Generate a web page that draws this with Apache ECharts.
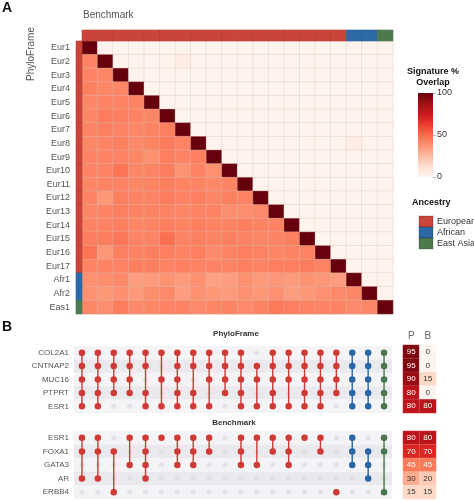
<!DOCTYPE html>
<html>
<head>
<meta charset="utf-8">
<script src="https://cdn.jsdelivr.net/npm/echarts@6/dist/echarts.min.js"></script>
<style>
  html, body { margin: 0; padding: 0; background: #fff; }
  #chart { width: 474px; height: 500px; }
</style>
</head>
<body>
<div id="chart"></div>
<script>
// ---- panel A data ----
const genomes = ['Eur1', 'Eur2', 'Eur3', 'Eur4', 'Eur5', 'Eur6', 'Eur7', 'Eur8', 'Eur9', 'Eur10',
  'Eur11', 'Eur12', 'Eur13', 'Eur14', 'Eur15', 'Eur16', 'Eur17', 'Afr1', 'Afr2', 'Eas1'];
// 0 = European, 1 = African, 2 = East Asian
const ancestry = [0, 0, 0, 0, 0, 0, 0, 0, 0, 0, 0, 0, 0, 0, 0, 0, 0, 1, 1, 2];
const ancestryNames = ['European', 'African', 'East Asian'];
// lower triangle overlap (%), row r holds columns 0..r-1
const lowerTri = [
  [],
  [42],
  [42, 41],
  [43, 41, 41],
  [41, 42, 42, 42],
  [41, 44, 43, 42, 41],
  [42, 43, 42, 41, 42, 43],
  [41, 42, 43, 40, 42, 44, 42],
  [42, 42, 42, 41, 38, 43, 42, 43],
  [42, 42, 47, 41, 42, 44, 37, 42, 38],
  [41, 42, 42, 41, 42, 43, 42, 42, 40, 42],
  [42, 36, 43, 42, 42, 44, 42, 43, 41, 43, 42],
  [41, 42, 43, 42, 42, 42, 41, 42, 42, 39, 39, 40],
  [42, 42, 43, 41, 42, 43, 42, 43, 42, 42, 43, 42, 42],
  [44, 44, 46, 42, 42, 48, 42, 43, 42, 43, 42, 41, 42, 43],
  [47, 36, 43, 42, 43, 43, 42, 43, 40, 42, 43, 42, 41, 42, 42],
  [42, 42, 42, 43, 43, 42, 43, 42, 42, 42, 43, 42, 43, 43, 44, 42],
  [38, 39, 40, 34, 35, 37, 35, 38, 33, 34, 38, 35, 36, 35, 37, 36, 34],
  [38, 36, 38, 35, 39, 40, 34, 38, 36, 35, 38, 36, 38, 34, 36, 38, 40, 41],
  [41, 39, 44, 40, 41, 42, 42, 40, 41, 42, 40, 42, 45, 43, 42, 42, 42, 40, 41]
];
const upperBase = 1;
// [row, col, value] of the few visible upper-triangle overlaps
const upperFaint = [[1, 6, 5], [7, 17, 5]];
const legendTicks = [0, 50, 100];

// ---- panel B data ----
const pfGenes = ['COL2A1', 'CNTNAP2', 'MUC16', 'PTPRT', 'ESR1'];
const pfSets = ['11111', '11111', '11110', '11110', '11011', '10101', '11111', '11011', '11101', '11110',
  '11111', '01101', '11111', '11101', '11111', '11111', '11110', '11111', '11111', '11111'];
const pfP = [95, 95, 90, 80, 80];
const pfB = [0, 0, 15, 0, 80];

const bmGenes = ['ESR1', 'FOXA1', 'GATA3', 'AR', 'ERBB4'];
const bmSets = ['11010', '11010', '01001', '10100', '11110', '10000', '11100', '11100', '11000', '00000',
  '11100', '10100', '11000', '11100', '10000', '11000', '00001', '11100', '01110', '11001'];
const bmP = [80, 70, 45, 30, 15];
const bmB = [80, 70, 45, 20, 15];

const setGroup = [0, 0, 0, 0, 0, 0, 0, 0, 0, 0, 0, 0, 0, 0, 0, 0, 0, 1, 1, 2];
const tableCols = ['P', 'B'];

const reds = ['#fff5f0', '#fee0d2', '#fcbba1', '#fc9272', '#fb6a4a', '#ef3b2c', '#cb181d', '#a50f15', '#67000d'];
const ancColors = ['#c9443a', '#2c6aa7', '#4c7a4e'];
const dotColors = ['#cf3a37', '#2a66a6', '#4a7650'];
const font = 'Liberation Sans, Arial, sans-serif';

// build heatmap data
const mainData = [];
genomes.forEach((g, r) => {
  genomes.forEach((h, c) => {
    let v = upperBase;
    if (c === r) v = 100;
    else if (c < r) v = lowerTri[r][c];
    mainData.push([c, r, v]);
  });
});
upperFaint.forEach(([r, c, v]) => { mainData[r * genomes.length + c][2] = v; });

function matrixParts(sets) {
  const on = [], off = [], lines = [];
  sets.forEach((s, c) => {
    const rows = [];
    s.split('').forEach((b, r) => {
      if (b === '1') { on.push([c, r, setGroup[c]]); rows.push(r); }
      else off.push([c, r]);
    });
    if (rows.length > 1) lines.push([c, rows[0], rows[rows.length - 1], setGroup[c]]);
  });
  return { on, off, lines };
}
const pf = matrixParts(pfSets);
const bm = matrixParts(bmSets);

function tableData(p, b) {
  const out = [];
  p.forEach((v, r) => {
    out.push({ value: [0, r, v], label: { color: v >= 40 ? '#fff' : '#333' } });
    out.push({ value: [1, r, b[r]], label: { color: b[r] >= 40 ? '#fff' : '#333' } });
  });
  return out;
}

const colIdx = pfSets.map((s, i) => i);

const myChart = echarts.init(document.getElementById('chart'));

const hiddenAxis = (gi, data) => ({ type: 'category', gridIndex: gi, data: data, show: false });

// one heatmap series per ancestry for the annotation bars (also feeds the legend)
function annoSeries(gi, top) {
  return ancestryNames.map((name, a) => ({
    type: 'heatmap', name: name, xAxisIndex: gi, yAxisIndex: gi,
    data: ancestry.map((v, i) => [top ? i : 0, top ? 0 : i, v]).filter(d => d[2] === a),
    itemStyle: { color: ancColors[a], borderColor: 'rgba(0,0,0,0.1)', borderWidth: 0.5 }
  }));
}

function matrixSeries(gi, parts) {
  return [
    {
      type: 'custom', xAxisIndex: gi, yAxisIndex: gi, data: parts.lines, z: 3,
      renderItem: (params, api) => {
        const a = api.coord([api.value(0), api.value(1)]);
        const b = api.coord([api.value(0), api.value(2)]);
        return {
          type: 'line',
          shape: { x1: a[0], y1: a[1], x2: b[0], y2: b[1] },
          style: { stroke: dotColors[api.value(3)], lineWidth: 1.4 }
        };
      }
    },
    {
      type: 'scatter', xAxisIndex: gi, yAxisIndex: gi, data: parts.off, symbolSize: 5, z: 2,
      itemStyle: { color: '#dcdce1' }, silent: true
    },
    {
      type: 'scatter', xAxisIndex: gi, yAxisIndex: gi, data: parts.on, symbolSize: 6.5, z: 4,
      itemStyle: { color: p => dotColors[p.data[2]], opacity: 1 }, silent: true
    }
  ];
}

function tableSeries(gi, data) {
  return {
    type: 'heatmap', xAxisIndex: gi, yAxisIndex: gi, data: data,
    label: { show: true, fontSize: 8, fontFamily: font },
    itemStyle: { borderColor: 'rgba(255,255,255,0.25)', borderWidth: 0.5 }
  };
}

myChart.setOption({
  animation: false,
  textStyle: { fontFamily: font },
  grid: [
    { left: 82, top: 41, width: 311, height: 273 },   // 0 heatmap
    { left: 82, top: 30, width: 311, height: 11 },    // 1 top annotation
    { left: 76, top: 41, width: 6, height: 273 },     // 2 left annotation
    { left: 418, top: 93, width: 15, height: 84 },    // 3 colour bar
    { left: 74, top: 346, width: 318, height: 67 },   // 4 PhyloFrame matrix
    { left: 74, top: 431, width: 318, height: 68 },   // 5 Benchmark matrix
    { left: 403, top: 345, width: 33, height: 68 },   // 6 PhyloFrame table
    { left: 403, top: 431, width: 33, height: 68 }    // 7 Benchmark table
  ],
  xAxis: [
    hiddenAxis(0, genomes),
    hiddenAxis(1, genomes),
    hiddenAxis(2, ['a']),
    hiddenAxis(3, ['c']),
    hiddenAxis(4, colIdx),
    hiddenAxis(5, colIdx),
    {
      type: 'category', gridIndex: 6, data: tableCols, position: 'top',
      axisLine: { show: false }, axisTick: { show: false },
      axisLabel: { color: '#666', fontSize: 10, margin: 4 }
    },
    hiddenAxis(7, tableCols)
  ],
  yAxis: [
    {
      type: 'category', gridIndex: 0, data: genomes, inverse: true,
      axisLine: { show: false }, axisTick: { show: false },
      axisLabel: { color: '#555', fontSize: 9, margin: 12 }
    },
    hiddenAxis(1, ['a']),
    Object.assign(hiddenAxis(2, genomes), { inverse: true }),
    {
      type: 'value', gridIndex: 3, min: 0, max: 100, interval: 50, position: 'right',
      splitLine: { show: false }, axisLine: { show: false },
      axisTick: { show: true, length: 3, lineStyle: { color: '#bbb' } },
      axisLabel: { color: '#333', fontSize: 9, margin: 4, formatter: v => legendTicks.includes(v) ? v : '' }
    },
    {
      type: 'category', gridIndex: 4, data: pfGenes, inverse: true,
      axisLine: { show: false }, axisTick: { show: false },
      axisLabel: { color: '#555', fontSize: 8, margin: 5 },
      splitArea: { show: true, areaStyle: { color: ['#f4f4f7', '#e9e9ee'] } }
    },
    {
      type: 'category', gridIndex: 5, data: bmGenes, inverse: true,
      axisLine: { show: false }, axisTick: { show: false },
      axisLabel: { color: '#555', fontSize: 8, margin: 5 },
      splitArea: { show: true, areaStyle: { color: ['#f4f4f7', '#e9e9ee'] } }
    },
    Object.assign(hiddenAxis(6, pfGenes), { inverse: true }),
    Object.assign(hiddenAxis(7, bmGenes), { inverse: true })
  ],
  legend: {
    data: ancestryNames, orient: 'vertical', left: 418, top: 215,
    icon: 'rect', itemWidth: 14, itemHeight: 11, itemGap: -2, padding: 0,
    selectedMode: false,
    textStyle: { color: '#333', fontSize: 9, padding: [0, 0, 0, -1] }
  },
  visualMap: [
    {
      type: 'continuous', show: false, min: 0, max: 100, dimension: 2,
      seriesIndex: [0, 14, 15], inRange: { color: reds }
    }
  ],
  series: [
    {
      type: 'heatmap', xAxisIndex: 0, yAxisIndex: 0, data: mainData,
      itemStyle: { borderColor: 'rgba(215,190,182,0.55)', borderWidth: 0.6 }
    },
    ...annoSeries(1, true),
    ...annoSeries(2, false),
    {
      type: 'bar', xAxisIndex: 3, yAxisIndex: 3, data: [100], barWidth: '100%', silent: true,
      itemStyle: {
        color: {
          type: 'linear', x: 0, y: 1, x2: 0, y2: 0,
          colorStops: reds.map((c, i) => ({ offset: i / (reds.length - 1), color: c }))
        }
      }
    },
    ...matrixSeries(4, pf),
    ...matrixSeries(5, bm),
    tableSeries(6, tableData(pfP, pfB)),
    tableSeries(7, tableData(bmP, bmB))
  ],
  graphic: [
    { type: 'text', left: 2, top: 1, style: { text: 'A', font: 'bold 14px ' + font, fill: '#111' } },
    { type: 'text', left: 83, top: 10, style: { text: 'Benchmark', font: '10px ' + font, fill: '#555' } },
    {
      type: 'text', x: 31, y: 54, rotation: Math.PI / 2,
      style: { text: 'PhyloFrame', font: '10px ' + font, fill: '#555', align: 'center', verticalAlign: 'middle' }
    },
    {
      type: 'text', x: 433, y: 66,
      style: { text: 'Signature %\nOverlap', font: 'bold 9px ' + font, fill: '#111', align: 'center', lineHeight: 11 }
    },
    { type: 'text', x: 412, y: 198, style: { text: 'Ancestry', font: 'bold 9px ' + font, fill: '#111' } },
    { type: 'text', left: 2, top: 320, style: { text: 'B', font: 'bold 14px ' + font, fill: '#111' } },
    {
      type: 'text', x: 236, y: 330,
      style: { text: 'PhyloFrame', font: 'bold 8px ' + font, fill: '#333', align: 'center' }
    },
    {
      type: 'text', x: 234, y: 419,
      style: { text: 'Benchmark', font: 'bold 8px ' + font, fill: '#333', align: 'center' }
    }
  ]
});
</script>
</body>
</html>
